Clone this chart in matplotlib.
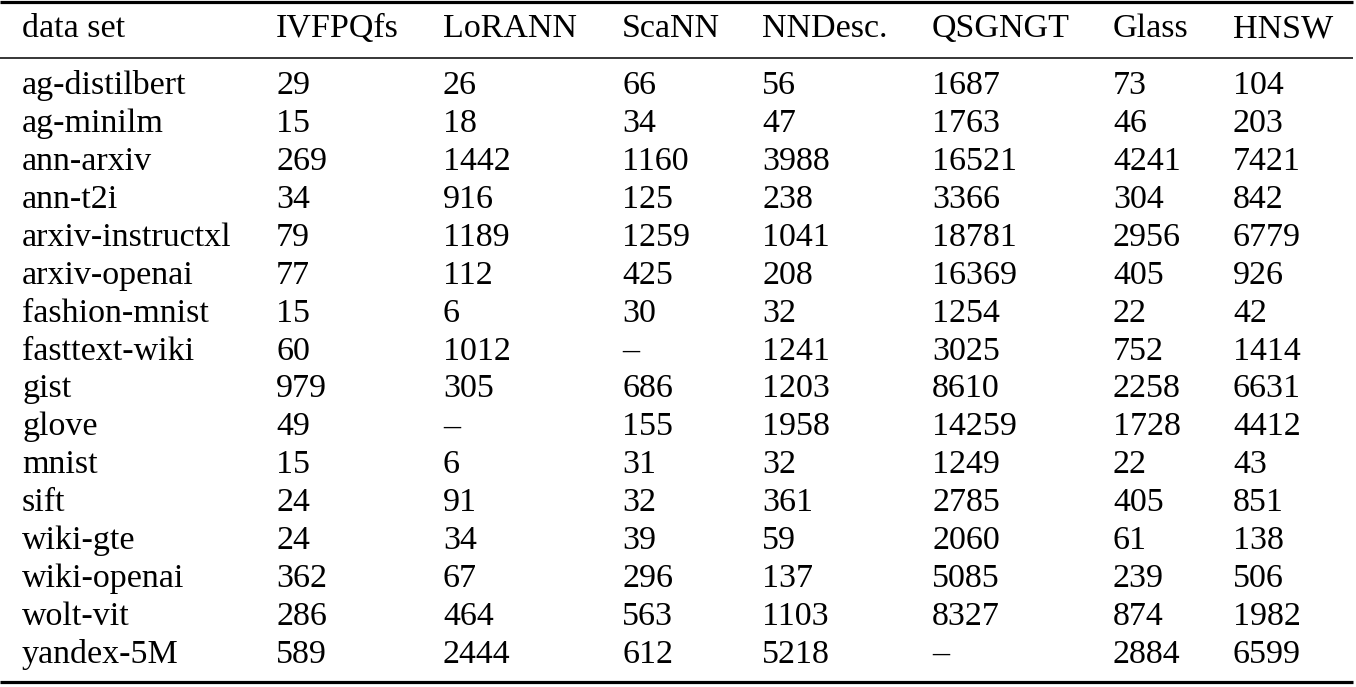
import matplotlib
matplotlib.use("Agg")
import matplotlib.pyplot as plt

plt.rcParams['font.family'] = ['Liberation Serif', 'DejaVu Serif']

# table contents
HEADER = ["data set", "IVFPQfs", "LoRANN", "ScaNN", "NNDesc.", "QSGNGT", "Glass", "HNSW"]

DATASETS = ["ag-distilbert", "ag-minilm", "ann-arxiv", "ann-t2i", "arxiv-instructxl",
            "arxiv-openai", "fashion-mnist", "fasttext-wiki", "gist", "glove", "mnist",
            "sift", "wiki-gte", "wiki-openai", "wolt-vit", "yandex-5M"]

IVFPQFS = [29, 15, 269, 34, 79, 77, 15, 60, 979, 49, 15, 24, 24, 362, 286, 589]
LORANN = [26, 18, 1442, 916, 1189, 112, 6, 1012, 305, None, 6, 91, 34, 67, 464, 2444]
SCANN = [66, 34, 1160, 125, 1259, 425, 30, None, 686, 155, 31, 32, 39, 296, 563, 612]
NNDESC = [56, 47, 3988, 238, 1041, 208, 32, 1241, 1203, 1958, 32, 361, 59, 137, 1103, 5218]
QSGNGT = [1687, 1763, 16521, 3366, 18781, 16369, 1254, 3025, 8610, 14259, 1249, 2785,
          2060, 5085, 8327, None]
GLASS = [73, 46, 4241, 304, 2956, 405, 22, 752, 2258, 1728, 22, 405, 61, 239, 874, 2884]
HNSW = [104, 203, 7421, 842, 6779, 926, 42, 1414, 6631, 4412, 43, 851, 138, 506, 1982, 6599]

COLUMNS = [DATASETS, IVFPQFS, LORANN, SCANN, NNDESC, QSGNGT, GLASS, HNSW]

# layout in pixels
W, H = 1356, 687
COL_X = [22, 276, 443, 622, 762, 932, 1113, 1233]
HEAD_Y = 37
ROW0_Y = 94
ROW_STEP = 37.93
FS = 24.5


def cell(v):
    if v is None:
        return "\u2013"
    return str(v)


fig = plt.figure(figsize=(W / 100, H / 100), dpi=100)
ax = fig.add_axes([0, 0, 1, 1])
ax.set_xlim(0, W)
ax.set_ylim(H, 0)
ax.axis('off')

for x, name in zip(COL_X, HEADER):
    ax.text(x, HEAD_Y, name, fontsize=FS, ha='left', va='baseline')

for c, col in enumerate(COLUMNS):
    for r, v in enumerate(col):
        ax.text(COL_X[c], ROW0_Y + r * ROW_STEP, cell(v), fontsize=FS,
                ha='left', va='baseline')

# booktabs style rules
ax.plot([0, 1353], [1.5, 1.5], color='black', linewidth=2.3, solid_capstyle='butt')
ax.plot([0, 1353], [57.5, 57.5], color='black', linewidth=1.1, solid_capstyle='butt')
ax.plot([0, 1353], [681.5, 681.5], color='black', linewidth=2.3, solid_capstyle='butt')

fig.savefig("out.png", dpi=100)
plt.close()
